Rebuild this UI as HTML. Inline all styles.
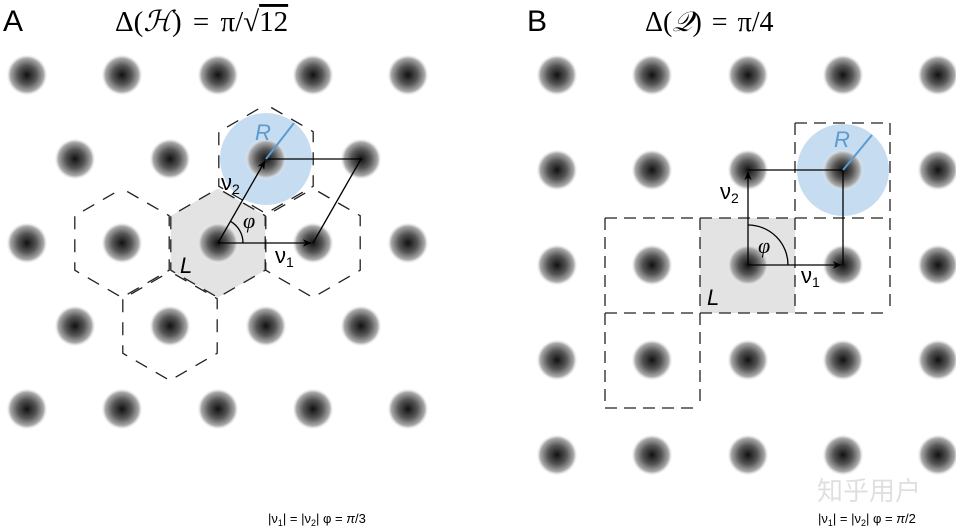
<!DOCTYPE html>
<html><head><meta charset="utf-8"><style>
html,body{margin:0;padding:0;background:#fff;}
svg{display:block}
</style></head><body>
<svg width="956" height="529" viewBox="0 0 956 529" xmlns="http://www.w3.org/2000/svg">
<defs>
<radialGradient id="d"><stop offset="0" stop-color="#111"/><stop offset="0.45" stop-color="#555"/><stop offset="0.8" stop-color="#aaa"/><stop offset="1" stop-color="#fff" stop-opacity="0"/></radialGradient>
<marker id="ar" viewBox="0 0 10 10" refX="9" refY="5" markerWidth="7" markerHeight="7" orient="auto"><path d="M0,1 L10,5 L0,9 L3,5z" fill="#000"/></marker>
</defs>
<rect width="956" height="529" fill="#fff"/>
<!-- Panel A -->
<polygon points="218,188.5 265.2,215.75 265.2,270.25 218,297.5 170.8,270.25 170.8,215.75" fill="#e3e3e3"/>
<circle cx="266" cy="159" r="46" fill="#bcd6ee" opacity="0.85"/>
<g fill="url(#d)">
<circle cx="27" cy="75" r="21"/><circle cx="122" cy="75" r="21"/><circle cx="218" cy="75" r="21"/><circle cx="313" cy="75" r="21"/><circle cx="408" cy="75" r="21"/>
<circle cx="75" cy="159" r="21"/><circle cx="170" cy="159" r="21"/><circle cx="266" cy="159" r="21"/><circle cx="361" cy="159" r="21"/>
<circle cx="27" cy="243" r="21"/><circle cx="122" cy="243" r="21"/><circle cx="218" cy="243" r="21"/><circle cx="313" cy="243" r="21"/><circle cx="408" cy="243" r="21"/>
<circle cx="75" cy="326" r="21"/><circle cx="170" cy="326" r="21"/><circle cx="266" cy="326" r="21"/><circle cx="361" cy="326" r="21"/>
<circle cx="27" cy="409" r="21"/><circle cx="122" cy="409" r="21"/><circle cx="218" cy="409" r="21"/><circle cx="313" cy="409" r="21"/><circle cx="408" cy="409" r="21"/>
</g>
<g fill="none" stroke="#222" stroke-width="1.3" stroke-dasharray="13,10" stroke-dashoffset="-6">
<polygon points="218,188.5 265.2,215.75 265.2,270.25 218,297.5 170.8,270.25 170.8,215.75"/>
<polygon points="266,104.5 313.2,131.75 313.2,186.25 266,213.5 218.8,186.25 218.8,131.75"/>
<polygon points="122,188.5 169.2,215.75 169.2,270.25 122,297.5 74.8,270.25 74.8,215.75"/>
<polygon points="170,271.5 217.2,298.75 217.2,353.25 170,380.5 122.8,353.25 122.8,298.75"/>
<polygon points="313,188.5 360.2,215.75 360.2,270.25 313,297.5 265.8,270.25 265.8,215.75"/>
</g>
<g stroke="#000" stroke-width="1.3" fill="none">
<polyline points="266,159 361,159 313,243"/>
<line x1="218" y1="243" x2="311" y2="243" marker-end="url(#ar)"/>
<line x1="218" y1="243" x2="265" y2="161" marker-end="url(#ar)"/>
<path d="M243,243 A25,25 0 0 0 230.5,221.3"/>
</g>
<line x1="266" y1="159" x2="294" y2="123" stroke="#5b9bd0" stroke-width="2"/>
<g font-family="Liberation Sans, sans-serif" font-size="22">
<text x="255" y="140" fill="#5b9bd0" font-style="italic">R</text>
<text x="221" y="190">ν<tspan font-size="14" dy="4">2</tspan></text>
<text x="243" y="228" font-family="Liberation Serif, serif" font-style="italic">φ</text>
<text x="180" y="273" font-style="italic">L</text>
<text x="275" y="263">ν<tspan font-size="14" dy="4">1</tspan></text>
</g>
<text x="3" y="31" font-family="Liberation Sans, sans-serif" font-size="30">A</text>
<text x="115" y="31" font-family="Liberation Serif, serif" font-size="29">Δ(<tspan font-style="italic">ℋ</tspan>) <tspan dx="4">=</tspan> <tspan dx="4">π/√</tspan><tspan text-decoration="overline">12</tspan></text>
<text x="268" y="523" font-family="Liberation Sans, sans-serif" font-size="13">|ν<tspan font-size="9" dy="3">1</tspan><tspan dy="-3">| = |ν</tspan><tspan font-size="9" dy="3">2</tspan><tspan dy="-3">|   φ = </tspan><tspan font-style="italic">π</tspan>/3</text>
<!-- Panel B -->
<rect x="700" y="218" width="95" height="95" fill="#e3e3e3"/>
<circle cx="843" cy="170" r="46" fill="#bcd6ee" opacity="0.85"/>
<g fill="url(#d)">
<circle cx="557" cy="75" r="21"/><circle cx="652" cy="75" r="21"/><circle cx="748" cy="75" r="21"/><circle cx="843" cy="75" r="21"/><circle cx="938" cy="75" r="21"/>
<circle cx="557" cy="170" r="21"/><circle cx="652" cy="170" r="21"/><circle cx="748" cy="170" r="21"/><circle cx="843" cy="170" r="21"/><circle cx="938" cy="170" r="21"/>
<circle cx="557" cy="265" r="21"/><circle cx="652" cy="265" r="21"/><circle cx="748" cy="265" r="21"/><circle cx="843" cy="265" r="21"/><circle cx="938" cy="265" r="21"/>
<circle cx="557" cy="360" r="21"/><circle cx="652" cy="360" r="21"/><circle cx="748" cy="360" r="21"/><circle cx="843" cy="360" r="21"/><circle cx="938" cy="360" r="21"/>
<circle cx="557" cy="455" r="21"/><circle cx="652" cy="455" r="21"/><circle cx="748" cy="455" r="21"/><circle cx="843" cy="455" r="21"/><circle cx="938" cy="455" r="21"/>
</g>
<g fill="none" stroke="#222" stroke-width="1.3" stroke-dasharray="12,7">
<line x1="795" y1="123" x2="890" y2="123"/>
<line x1="605" y1="218" x2="890" y2="218"/>
<line x1="605" y1="313" x2="890" y2="313"/>
<line x1="605" y1="408" x2="700" y2="408"/>
<line x1="605" y1="218" x2="605" y2="408"/>
<line x1="700" y1="218" x2="700" y2="408"/>
<line x1="795" y1="123" x2="795" y2="313"/>
<line x1="890" y1="123" x2="890" y2="313"/>
</g>
<g stroke="#000" stroke-width="1.3" fill="none">
<polyline points="748,170 843,170 843,265"/>
<line x1="748" y1="265" x2="841" y2="265" marker-end="url(#ar)"/>
<line x1="748" y1="265" x2="748" y2="172" marker-end="url(#ar)"/>
<path d="M788,265 A40,40 0 0 0 748,225"/>
</g>
<line x1="843" y1="170" x2="872" y2="135" stroke="#5b9bd0" stroke-width="2"/>
<g font-family="Liberation Sans, sans-serif" font-size="22">
<text x="834" y="147" fill="#5b9bd0" font-style="italic">R</text>
<text x="720" y="199">ν<tspan font-size="14" dy="4">2</tspan></text>
<text x="758" y="253" font-family="Liberation Serif, serif" font-style="italic">φ</text>
<text x="707" y="305" font-style="italic">L</text>
<text x="801" y="283">ν<tspan font-size="14" dy="4">1</tspan></text>
</g>
<text x="527" y="31" font-family="Liberation Sans, sans-serif" font-size="30">B</text>
<text x="645" y="31" font-family="Liberation Serif, serif" font-size="28">Δ(<tspan font-style="italic">𝒬</tspan>) <tspan dx="3">=</tspan> <tspan dx="3">π/4</tspan></text>
<text x="817" y="500" font-family="Noto Sans CJK SC, sans-serif" font-size="26" fill="#000" opacity="0.12">知乎用户</text>
<text x="818" y="523" font-family="Liberation Sans, sans-serif" font-size="13">|ν<tspan font-size="9" dy="3">1</tspan><tspan dy="-3">| = |ν</tspan><tspan font-size="9" dy="3">2</tspan><tspan dy="-3">|   φ = </tspan><tspan font-style="italic">π</tspan>/2</text>
</svg>
</body></html>
